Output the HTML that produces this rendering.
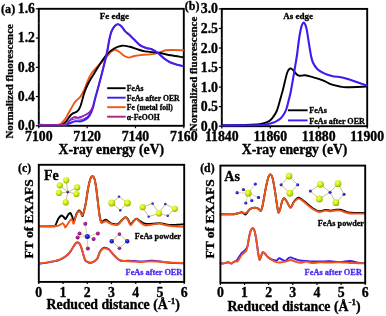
<!DOCTYPE html><html><head><meta charset="utf-8"><style>html,body{margin:0;padding:0;background:#fff;width:386px;height:316px;overflow:hidden}</style></head><body><svg width="386" height="316" viewBox="0 0 386 316" style="display:block;will-change:transform;font-family:'Liberation Serif',serif;font-weight:bold">
<rect width="386" height="316" fill="#fff"/>
<rect x="38.80" y="8.80" width="145.00" height="117.00" fill="none" stroke="#000" stroke-width="1.9"/>
<path d="M39.00,125.00 C42.00,124.98 53.50,125.02 57.00,124.90 C60.50,124.78 59.08,124.75 60.00,124.30 C60.92,123.85 61.55,123.20 62.50,122.20 C63.45,121.20 64.70,119.80 65.70,118.30 C66.70,116.80 67.55,114.92 68.50,113.20 C69.45,111.48 70.45,109.67 71.40,108.00 C72.35,106.33 73.25,104.57 74.20,103.20 C75.15,101.83 76.05,100.90 77.10,99.80 C78.15,98.70 79.37,98.15 80.50,96.60 C81.63,95.05 82.73,93.02 83.90,90.50 C85.07,87.98 86.25,84.33 87.50,81.50 C88.75,78.67 89.62,76.12 91.40,73.50 C93.18,70.88 96.27,67.97 98.20,65.80 C100.13,63.63 101.48,62.13 103.00,60.50 C104.52,58.87 105.97,57.45 107.30,56.00 C108.63,54.55 109.67,52.85 111.00,51.80 C112.33,50.75 113.83,49.62 115.30,49.70 C116.77,49.78 118.28,51.25 119.80,52.30 C121.32,53.35 122.88,55.12 124.40,56.00 C125.92,56.88 127.20,57.60 128.90,57.60 C130.60,57.60 132.13,56.47 134.60,56.00 C137.07,55.53 141.13,55.07 143.70,54.80 C146.27,54.53 147.57,54.73 150.00,54.40 C152.43,54.07 155.67,53.48 158.30,52.80 C160.93,52.12 163.18,50.77 165.80,50.30 C168.42,49.83 171.13,50.00 174.00,50.00 C176.87,50.00 181.50,50.25 183.00,50.30" fill="none" stroke="#f35516" stroke-width="1.9" stroke-linejoin="round" stroke-linecap="round" />
<path d="M39.00,125.00 C42.50,124.98 56.00,125.07 60.00,124.90 C64.00,124.73 62.05,124.50 63.00,124.00 C63.95,123.50 64.78,122.90 65.70,121.90 C66.62,120.90 67.55,119.23 68.50,118.00 C69.45,116.77 70.35,115.40 71.40,114.50 C72.45,113.60 73.87,113.08 74.80,112.60 C75.73,112.12 76.33,112.12 77.00,111.60 C77.67,111.08 78.22,110.43 78.80,109.50 C79.38,108.57 79.97,107.42 80.50,106.00 C81.03,104.58 81.33,103.28 82.00,101.00 C82.67,98.72 83.58,94.97 84.50,92.30 C85.42,89.63 86.42,87.30 87.50,85.00 C88.58,82.70 89.58,80.92 91.00,78.50 C92.42,76.08 94.33,73.17 96.00,70.50 C97.67,67.83 99.12,65.25 101.00,62.50 C102.88,59.75 105.12,56.33 107.30,54.00 C109.48,51.67 111.63,49.88 114.10,48.50 C116.57,47.12 119.45,45.98 122.10,45.70 C124.75,45.42 127.53,46.23 130.00,46.80 C132.47,47.37 134.40,48.33 136.90,49.10 C139.40,49.87 141.43,50.78 145.00,51.40 C148.57,52.02 153.98,52.15 158.30,52.80 C162.62,53.45 166.78,54.57 170.90,55.30 C175.02,56.03 180.98,56.88 183.00,57.20" fill="none" stroke="#000" stroke-width="1.9" stroke-linejoin="round" stroke-linecap="round" />
<path d="M68.00,122.00 C68.35,121.75 68.77,121.03 70.10,120.50 C71.43,119.97 73.92,119.02 76.00,118.80 C78.08,118.58 80.80,119.47 82.60,119.20 C84.40,118.93 85.57,118.15 86.80,117.20 C88.03,116.25 89.47,114.12 90.00,113.50" fill="none" stroke="#8a22b8" stroke-width="1.1" stroke-linejoin="round" stroke-linecap="round" />
<path d="M39.00,124.60 C43.17,124.58 59.22,124.83 64.00,124.50 C68.78,124.17 66.53,123.52 67.70,122.60 C68.87,121.68 69.90,119.92 71.00,119.00 C72.10,118.08 73.07,117.33 74.30,117.10 C75.53,116.87 77.02,117.73 78.40,117.60 C79.78,117.47 81.00,117.00 82.60,116.30 C84.20,115.60 86.68,114.28 88.00,113.40 C89.32,112.52 89.72,112.07 90.50,111.00 C91.28,109.93 91.95,109.00 92.70,107.00 C93.45,105.00 94.20,101.83 95.00,99.00 C95.80,96.17 96.33,94.33 97.50,90.00 C98.67,85.67 100.67,78.17 102.00,73.00 C103.33,67.83 104.58,62.83 105.50,59.00 C106.42,55.17 106.90,53.03 107.50,50.00 C108.10,46.97 108.45,43.85 109.10,40.80 C109.75,37.75 110.45,34.17 111.40,31.70 C112.35,29.23 113.67,27.23 114.80,26.00 C115.93,24.77 117.07,24.22 118.20,24.30 C119.33,24.38 120.47,25.37 121.60,26.50 C122.73,27.63 123.67,29.67 125.00,31.10 C126.33,32.53 128.07,33.68 129.60,35.10 C131.13,36.52 132.58,38.02 134.20,39.60 C135.82,41.18 137.83,43.40 139.30,44.60 C140.77,45.80 141.72,46.20 143.00,46.80 C144.28,47.40 145.67,47.83 147.00,48.20 C148.33,48.57 149.75,48.60 151.00,49.00 C152.25,49.40 153.28,49.88 154.50,50.60 C155.72,51.32 157.05,52.30 158.30,53.30 C159.55,54.30 160.75,55.53 162.00,56.60 C163.25,57.67 164.55,58.80 165.80,59.70 C167.05,60.60 168.23,61.35 169.50,62.00 C170.77,62.65 171.98,63.10 173.40,63.60 C174.82,64.10 176.47,64.60 178.00,65.00 C179.53,65.40 181.83,65.83 182.60,66.00" fill="none" stroke="#8a22b8" stroke-width="1.5" stroke-linejoin="round" stroke-linecap="round" />
<path d="M39.00,125.20 C43.17,125.17 59.25,125.20 64.00,125.00 C68.75,124.80 66.45,124.33 67.50,124.00 C68.55,123.67 69.02,123.45 70.30,123.00 C71.58,122.55 73.42,121.58 75.20,121.30 C76.98,121.02 79.33,121.57 81.00,121.30 C82.67,121.03 83.82,120.60 85.20,119.70 C86.58,118.80 88.05,117.77 89.30,115.90 C90.55,114.03 91.75,111.32 92.70,108.50 C93.65,105.68 94.20,102.08 95.00,99.00 C95.80,95.92 96.33,94.33 97.50,90.00 C98.67,85.67 100.67,78.17 102.00,73.00 C103.33,67.83 104.58,62.83 105.50,59.00 C106.42,55.17 106.90,53.03 107.50,50.00 C108.10,46.97 108.45,43.85 109.10,40.80 C109.75,37.75 110.45,34.17 111.40,31.70 C112.35,29.23 113.67,27.23 114.80,26.00 C115.93,24.77 117.07,24.22 118.20,24.30 C119.33,24.38 120.47,25.37 121.60,26.50 C122.73,27.63 123.67,29.67 125.00,31.10 C126.33,32.53 128.07,33.68 129.60,35.10 C131.13,36.52 132.58,38.02 134.20,39.60 C135.82,41.18 137.83,43.40 139.30,44.60 C140.77,45.80 141.72,46.20 143.00,46.80 C144.28,47.40 145.67,47.83 147.00,48.20 C148.33,48.57 149.75,48.60 151.00,49.00 C152.25,49.40 153.28,49.88 154.50,50.60 C155.72,51.32 157.05,52.30 158.30,53.30 C159.55,54.30 160.75,55.53 162.00,56.60 C163.25,57.67 164.55,58.80 165.80,59.70 C167.05,60.60 168.23,61.35 169.50,62.00 C170.77,62.65 171.98,63.10 173.40,63.60 C174.82,64.10 176.47,64.60 178.00,65.00 C179.53,65.40 181.83,65.83 182.60,66.00" fill="none" stroke="#3c1cf4" stroke-width="2.1" stroke-linejoin="round" stroke-linecap="round" />
<path d="M39.00,124.60 C43.17,124.58 59.22,124.83 64.00,124.50 C68.78,124.17 66.53,123.52 67.70,122.60 C68.87,121.68 69.90,119.92 71.00,119.00 C72.10,118.08 73.07,117.33 74.30,117.10 C75.53,116.87 77.02,117.73 78.40,117.60 C79.78,117.47 81.00,117.00 82.60,116.30 C84.20,115.60 86.68,114.28 88.00,113.40 C89.32,112.52 89.72,112.07 90.50,111.00 C91.28,109.93 92.33,107.67 92.70,107.00" fill="none" stroke="#8a22b8" stroke-width="1.3" stroke-linejoin="round" stroke-linecap="round" />
<path d="M39.00,124.60 C43.17,124.58 59.22,124.83 64.00,124.50 C68.78,124.17 66.53,123.52 67.70,122.60 C68.87,121.68 69.90,119.92 71.00,119.00 C72.10,118.08 73.07,117.33 74.30,117.10 C75.53,116.87 77.02,117.73 78.40,117.60 C79.78,117.47 81.00,117.00 82.60,116.30 C84.20,115.60 86.68,114.28 88.00,113.40 C89.32,112.52 89.72,112.07 90.50,111.00 C91.28,109.93 91.95,109.00 92.70,107.00 C93.45,105.00 94.20,101.83 95.00,99.00 C95.80,96.17 96.33,94.33 97.50,90.00 C98.67,85.67 100.67,78.17 102.00,73.00 C103.33,67.83 104.58,62.83 105.50,59.00 C106.42,55.17 106.90,53.03 107.50,50.00 C108.10,46.97 108.45,43.85 109.10,40.80 C109.75,37.75 110.45,34.17 111.40,31.70 C112.35,29.23 113.67,27.23 114.80,26.00 C115.93,24.77 117.07,24.22 118.20,24.30 C119.33,24.38 120.47,25.37 121.60,26.50 C122.73,27.63 123.67,29.67 125.00,31.10 C126.33,32.53 128.07,33.68 129.60,35.10 C131.13,36.52 132.58,38.02 134.20,39.60 C135.82,41.18 137.83,43.40 139.30,44.60 C140.77,45.80 141.72,46.20 143.00,46.80 C144.28,47.40 145.67,47.83 147.00,48.20 C148.33,48.57 149.75,48.60 151.00,49.00 C152.25,49.40 153.28,49.88 154.50,50.60 C155.72,51.32 157.05,52.30 158.30,53.30 C159.55,54.30 160.75,55.53 162.00,56.60 C163.25,57.67 164.55,58.80 165.80,59.70 C167.05,60.60 168.23,61.35 169.50,62.00 C170.77,62.65 171.98,63.10 173.40,63.60 C174.82,64.10 176.47,64.60 178.00,65.00 C179.53,65.40 181.83,65.83 182.60,66.00" fill="none" stroke="#e8302a" stroke-width="0.8" stroke-linejoin="round" stroke-linecap="round" stroke-dasharray="1.2,3" stroke-opacity="0.4"/>
<line x1="35.80" y1="125.80" x2="38.80" y2="125.80" stroke="#000" stroke-width="1.2"/>
<text transform="translate(35.00 130.10) scale(1.0 1.06)" font-size="13.8" text-anchor="end" fill="#000" stroke="#000" stroke-width="0.35" stroke-linejoin="round" >0.0</text>
<line x1="35.80" y1="96.55" x2="38.80" y2="96.55" stroke="#000" stroke-width="1.2"/>
<text transform="translate(35.00 100.85) scale(1.0 1.06)" font-size="13.8" text-anchor="end" fill="#000" stroke="#000" stroke-width="0.35" stroke-linejoin="round" >0.4</text>
<line x1="35.80" y1="67.30" x2="38.80" y2="67.30" stroke="#000" stroke-width="1.2"/>
<text transform="translate(35.00 71.60) scale(1.0 1.06)" font-size="13.8" text-anchor="end" fill="#000" stroke="#000" stroke-width="0.35" stroke-linejoin="round" >0.8</text>
<line x1="35.80" y1="38.05" x2="38.80" y2="38.05" stroke="#000" stroke-width="1.2"/>
<text transform="translate(35.00 42.35) scale(1.0 1.06)" font-size="13.8" text-anchor="end" fill="#000" stroke="#000" stroke-width="0.35" stroke-linejoin="round" >1.2</text>
<line x1="35.80" y1="8.80" x2="38.80" y2="8.80" stroke="#000" stroke-width="1.2"/>
<text transform="translate(35.00 13.10) scale(1.0 1.06)" font-size="13.8" text-anchor="end" fill="#000" stroke="#000" stroke-width="0.35" stroke-linejoin="round" >1.6</text>
<line x1="37.30" y1="111.17" x2="38.80" y2="111.17" stroke="#999" stroke-width="0.6"/>
<line x1="37.30" y1="81.92" x2="38.80" y2="81.92" stroke="#999" stroke-width="0.6"/>
<line x1="37.30" y1="52.67" x2="38.80" y2="52.67" stroke="#999" stroke-width="0.6"/>
<line x1="37.30" y1="23.42" x2="38.80" y2="23.42" stroke="#999" stroke-width="0.6"/>
<line x1="38.80" y1="125.80" x2="38.80" y2="128.20" stroke="#000" stroke-width="1.2"/>
<text transform="translate(38.80 140.80) scale(1.0 1.06)" font-size="13.8" text-anchor="middle" fill="#000" stroke="#000" stroke-width="0.35" stroke-linejoin="round" >7100</text>
<line x1="87.13" y1="125.80" x2="87.13" y2="128.20" stroke="#000" stroke-width="1.2"/>
<text transform="translate(87.13 140.80) scale(1.0 1.06)" font-size="13.8" text-anchor="middle" fill="#000" stroke="#000" stroke-width="0.35" stroke-linejoin="round" >7120</text>
<line x1="135.47" y1="125.80" x2="135.47" y2="128.20" stroke="#000" stroke-width="1.2"/>
<text transform="translate(135.47 140.80) scale(1.0 1.06)" font-size="13.8" text-anchor="middle" fill="#000" stroke="#000" stroke-width="0.35" stroke-linejoin="round" >7140</text>
<line x1="183.80" y1="125.80" x2="183.80" y2="128.20" stroke="#000" stroke-width="1.2"/>
<text transform="translate(183.80 140.80) scale(1.0 1.06)" font-size="13.8" text-anchor="middle" fill="#000" stroke="#000" stroke-width="0.35" stroke-linejoin="round" >7160</text>
<text transform="translate(58.50 153.60) scale(1.0 1.07)" font-size="13.7" text-anchor="start" fill="#000" stroke="#000" stroke-width="0.35" stroke-linejoin="round" >X-ray energy (eV)</text>
<text x="13.30" y="138.60" font-size="10.9" text-anchor="start" fill="#000" stroke="#000" stroke-width="0.283" stroke-linejoin="round" transform="rotate(-90 13.3 138.6)">Normalized fluorescence</text>
<text transform="translate(1.00 13.10) scale(1.0 0.95)" font-size="12.2" text-anchor="start" fill="#000" stroke="#000" stroke-width="0.317" stroke-linejoin="round" >(a)</text>
<text x="99.80" y="18.90" font-size="9" text-anchor="start" fill="#000" stroke="#000" stroke-width="0.3" stroke-linejoin="round" >Fe edge</text>
<line x1="107.20" y1="88.20" x2="125.60" y2="88.20" stroke="#000" stroke-width="1.9"/>
<text x="126.80" y="91.00" font-size="7.7" text-anchor="start" fill="#000" stroke="#000" stroke-width="0.3" stroke-linejoin="round" >FeAs</text>
<line x1="107.20" y1="97.70" x2="125.60" y2="97.70" stroke="#3c1cf4" stroke-width="1.9"/>
<text x="126.80" y="100.50" font-size="7.7" text-anchor="start" fill="#000" stroke="#000" stroke-width="0.3" stroke-linejoin="round" >FeAs after OER</text>
<line x1="107.20" y1="107.20" x2="125.60" y2="107.20" stroke="#f35516" stroke-width="1.9"/>
<text x="126.80" y="110.00" font-size="7.7" text-anchor="start" fill="#000" stroke="#000" stroke-width="0.3" stroke-linejoin="round" >Fe (metal foil)</text>
<line x1="107.20" y1="116.70" x2="125.60" y2="116.70" stroke="#8a22b8" stroke-width="1.9"/>
<line x1="107.2" y1="116.50" x2="125.6" y2="116.50" stroke="#e8302a" stroke-width="0.8" stroke-dasharray="1.3,1.3"/>
<text x="126.80" y="119.50" font-size="7.7" text-anchor="start" fill="#000" stroke="#000" stroke-width="0.3" stroke-linejoin="round" >&#945;-FeOOH</text>
<rect x="221.80" y="8.90" width="145.40" height="117.30" fill="none" stroke="#000" stroke-width="1.9"/>
<path d="M222.00,125.30 C225.83,125.25 239.20,125.13 245.00,125.00 C250.80,124.87 253.97,124.70 256.80,124.50 C259.63,124.30 260.28,124.18 262.00,123.80 C263.72,123.42 265.63,122.87 267.10,122.20 C268.57,121.53 269.67,120.85 270.80,119.80 C271.93,118.75 272.95,117.28 273.90,115.90 C274.85,114.52 275.73,113.20 276.50,111.50 C277.27,109.80 277.72,108.28 278.50,105.70 C279.28,103.12 280.45,98.70 281.20,96.00 C281.95,93.30 282.43,91.70 283.00,89.50 C283.57,87.30 284.02,85.22 284.60,82.80 C285.18,80.38 285.93,77.00 286.50,75.00 C287.07,73.00 287.38,71.90 288.00,70.80 C288.62,69.70 289.50,68.67 290.20,68.40 C290.90,68.13 291.48,68.63 292.20,69.20 C292.92,69.77 293.70,70.87 294.50,71.80 C295.30,72.73 296.17,74.13 297.00,74.80 C297.83,75.47 298.13,75.72 299.50,75.80 C300.87,75.88 302.98,75.07 305.20,75.30 C307.42,75.53 309.85,76.37 312.80,77.20 C315.75,78.03 319.95,79.15 322.90,80.30 C325.85,81.45 327.83,83.12 330.50,84.10 C333.17,85.08 336.22,85.68 338.90,86.20 C341.58,86.72 341.98,87.13 346.60,87.20 C351.22,87.27 363.27,86.70 366.60,86.60" fill="none" stroke="#000" stroke-width="1.9" stroke-linejoin="round" stroke-linecap="round" />
<path d="M222.00,125.50 C226.67,125.47 243.43,125.38 250.00,125.30 C256.57,125.22 258.57,125.18 261.40,125.00 C264.23,124.82 265.10,124.57 267.00,124.20 C268.90,123.83 271.13,123.37 272.80,122.80 C274.47,122.23 275.67,121.57 277.00,120.80 C278.33,120.03 279.63,119.33 280.80,118.20 C281.97,117.07 283.07,115.53 284.00,114.00 C284.93,112.47 285.65,111.17 286.40,109.00 C287.15,106.83 287.80,103.75 288.50,101.00 C289.20,98.25 289.85,96.17 290.60,92.50 C291.35,88.83 292.23,83.42 293.00,79.00 C293.77,74.58 294.53,70.00 295.20,66.00 C295.87,62.00 296.38,59.33 297.00,55.00 C297.62,50.67 298.32,44.08 298.90,40.00 C299.48,35.92 299.98,33.03 300.50,30.50 C301.02,27.97 301.47,26.12 302.00,24.80 C302.53,23.48 303.13,22.60 303.70,22.60 C304.27,22.60 304.88,23.57 305.40,24.80 C305.92,26.03 306.30,27.47 306.80,30.00 C307.30,32.53 307.72,35.83 308.40,40.00 C309.08,44.17 310.17,51.30 310.90,55.00 C311.63,58.70 311.75,59.88 312.80,62.20 C313.85,64.52 315.30,67.03 317.20,68.90 C319.10,70.77 321.77,72.23 324.20,73.40 C326.63,74.57 328.62,75.18 331.80,75.90 C334.98,76.62 339.90,76.93 343.30,77.70 C346.70,78.47 348.32,79.20 352.20,80.50 C356.08,81.80 364.20,84.67 366.60,85.50" fill="none" stroke="#3c1cf4" stroke-width="2.1" stroke-linejoin="round" stroke-linecap="round" />
<line x1="218.80" y1="126.20" x2="221.80" y2="126.20" stroke="#000" stroke-width="1.2"/>
<text transform="translate(218.00 130.70) scale(1.0 1.06)" font-size="13.8" text-anchor="end" fill="#000" stroke="#000" stroke-width="0.35" stroke-linejoin="round" >0.0</text>
<line x1="218.80" y1="106.65" x2="221.80" y2="106.65" stroke="#000" stroke-width="1.2"/>
<text transform="translate(218.00 111.15) scale(1.0 1.06)" font-size="13.8" text-anchor="end" fill="#000" stroke="#000" stroke-width="0.35" stroke-linejoin="round" >0.5</text>
<line x1="218.80" y1="87.10" x2="221.80" y2="87.10" stroke="#000" stroke-width="1.2"/>
<text transform="translate(218.00 91.60) scale(1.0 1.06)" font-size="13.8" text-anchor="end" fill="#000" stroke="#000" stroke-width="0.35" stroke-linejoin="round" >1.0</text>
<line x1="218.80" y1="67.55" x2="221.80" y2="67.55" stroke="#000" stroke-width="1.2"/>
<text transform="translate(218.00 72.05) scale(1.0 1.06)" font-size="13.8" text-anchor="end" fill="#000" stroke="#000" stroke-width="0.35" stroke-linejoin="round" >1.5</text>
<line x1="218.80" y1="48.00" x2="221.80" y2="48.00" stroke="#000" stroke-width="1.2"/>
<text transform="translate(218.00 52.50) scale(1.0 1.06)" font-size="13.8" text-anchor="end" fill="#000" stroke="#000" stroke-width="0.35" stroke-linejoin="round" >2.0</text>
<line x1="218.80" y1="28.45" x2="221.80" y2="28.45" stroke="#000" stroke-width="1.2"/>
<text transform="translate(218.00 32.95) scale(1.0 1.06)" font-size="13.8" text-anchor="end" fill="#000" stroke="#000" stroke-width="0.35" stroke-linejoin="round" >2.5</text>
<line x1="218.80" y1="8.90" x2="221.80" y2="8.90" stroke="#000" stroke-width="1.2"/>
<text transform="translate(218.00 13.40) scale(1.0 1.06)" font-size="13.8" text-anchor="end" fill="#000" stroke="#000" stroke-width="0.35" stroke-linejoin="round" >3.0</text>
<line x1="220.30" y1="116.42" x2="221.80" y2="116.42" stroke="#999" stroke-width="0.6"/>
<line x1="220.30" y1="96.88" x2="221.80" y2="96.88" stroke="#999" stroke-width="0.6"/>
<line x1="220.30" y1="77.33" x2="221.80" y2="77.33" stroke="#999" stroke-width="0.6"/>
<line x1="220.30" y1="57.78" x2="221.80" y2="57.78" stroke="#999" stroke-width="0.6"/>
<line x1="220.30" y1="38.22" x2="221.80" y2="38.22" stroke="#999" stroke-width="0.6"/>
<line x1="220.30" y1="18.68" x2="221.80" y2="18.68" stroke="#999" stroke-width="0.6"/>
<line x1="221.80" y1="126.20" x2="221.80" y2="128.60" stroke="#000" stroke-width="1.2"/>
<text transform="translate(221.80 140.80) scale(1.0 1.06)" font-size="13.8" text-anchor="middle" fill="#000" stroke="#000" stroke-width="0.35" stroke-linejoin="round" >11840</text>
<line x1="270.27" y1="126.20" x2="270.27" y2="128.60" stroke="#000" stroke-width="1.2"/>
<text transform="translate(270.27 140.80) scale(1.0 1.06)" font-size="13.8" text-anchor="middle" fill="#000" stroke="#000" stroke-width="0.35" stroke-linejoin="round" >11860</text>
<line x1="318.73" y1="126.20" x2="318.73" y2="128.60" stroke="#000" stroke-width="1.2"/>
<text transform="translate(318.73 140.80) scale(1.0 1.06)" font-size="13.8" text-anchor="middle" fill="#000" stroke="#000" stroke-width="0.35" stroke-linejoin="round" >11880</text>
<line x1="367.20" y1="126.20" x2="367.20" y2="128.60" stroke="#000" stroke-width="1.2"/>
<text transform="translate(367.20 140.80) scale(1.0 1.06)" font-size="13.8" text-anchor="middle" fill="#000" stroke="#000" stroke-width="0.35" stroke-linejoin="round" >11900</text>
<text transform="translate(241.80 153.60) scale(1.0 1.07)" font-size="13.7" text-anchor="start" fill="#000" stroke="#000" stroke-width="0.35" stroke-linejoin="round" >X-ray energy (eV)</text>
<text x="196.80" y="131.20" font-size="10.9" text-anchor="start" fill="#000" stroke="#000" stroke-width="0.283" stroke-linejoin="round" transform="rotate(-90 196.8 131.2)">Normalized fluorescence</text>
<text x="184.80" y="10.30" font-size="12.0" text-anchor="start" fill="#000" stroke="#000" stroke-width="0.312" stroke-linejoin="round" >(b)</text>
<text x="283.20" y="18.70" font-size="9" text-anchor="start" fill="#000" stroke="#000" stroke-width="0.3" stroke-linejoin="round" >As edge</text>
<line x1="288.00" y1="110.30" x2="307.60" y2="110.30" stroke="#000" stroke-width="1.9"/>
<text x="309.30" y="113.40" font-size="8.1" text-anchor="start" fill="#000" stroke="#000" stroke-width="0.3" stroke-linejoin="round" >FeAs</text>
<line x1="288.00" y1="120.40" x2="307.60" y2="120.40" stroke="#3c1cf4" stroke-width="1.9"/>
<text x="309.30" y="123.50" font-size="8.1" text-anchor="start" fill="#000" stroke="#000" stroke-width="0.3" stroke-linejoin="round" >FeAs after OER</text>
<defs><radialGradient id="gy" cx="0.4" cy="0.35" r="0.65"><stop offset="0" stop-color="#f4ff70"/><stop offset="0.55" stop-color="#d0ec10"/><stop offset="1" stop-color="#8cb000"/></radialGradient><radialGradient id="gb" cx="0.4" cy="0.35" r="0.65"><stop offset="0" stop-color="#4a5aff"/><stop offset="0.6" stop-color="#1a1ad0"/><stop offset="1" stop-color="#0a0a80"/></radialGradient><radialGradient id="gp" cx="0.4" cy="0.35" r="0.65"><stop offset="0" stop-color="#c83c9c"/><stop offset="0.6" stop-color="#9a1a86"/><stop offset="1" stop-color="#60106a"/></radialGradient></defs>
<path d="M39.00,226.40 C41.50,226.38 51.25,226.50 54.00,226.30 C56.75,226.10 54.78,226.47 55.50,225.20 C56.22,223.93 57.32,220.32 58.30,218.70 C59.28,217.08 60.53,215.82 61.40,215.50 C62.27,215.18 62.82,216.22 63.50,216.80 C64.18,217.38 64.75,219.30 65.50,219.00 C66.25,218.70 67.22,216.00 68.00,215.00 C68.78,214.00 69.50,212.75 70.20,213.00 C70.90,213.25 71.60,215.08 72.20,216.50 C72.80,217.92 73.08,221.92 73.80,221.50 C74.52,221.08 75.63,215.85 76.50,214.00 C77.37,212.15 78.25,210.65 79.00,210.40 C79.75,210.15 80.40,211.57 81.00,212.50 C81.60,213.43 82.05,216.42 82.60,216.00 C83.15,215.58 83.73,212.33 84.30,210.00 C84.87,207.67 85.38,205.50 86.00,202.00 C86.62,198.50 87.28,192.83 88.00,189.00 C88.72,185.17 89.57,181.12 90.30,179.00 C91.03,176.88 91.70,176.30 92.40,176.30 C93.10,176.30 93.87,177.05 94.50,179.00 C95.13,180.95 95.62,184.00 96.20,188.00 C96.78,192.00 97.45,198.50 98.00,203.00 C98.55,207.50 98.97,211.83 99.50,215.00 C100.03,218.17 100.53,221.03 101.20,222.00 C101.87,222.97 102.70,221.20 103.50,220.80 C104.30,220.40 105.08,219.43 106.00,219.60 C106.92,219.77 108.00,221.13 109.00,221.80 C110.00,222.47 110.55,223.20 112.00,223.60 C113.45,224.00 116.12,224.72 117.70,224.20 C119.28,223.68 120.22,221.67 121.50,220.50 C122.78,219.33 124.32,217.37 125.40,217.20 C126.48,217.03 127.13,218.33 128.00,219.50 C128.87,220.67 129.68,223.95 130.60,224.20 C131.52,224.45 132.52,221.90 133.50,221.00 C134.48,220.10 135.42,218.80 136.50,218.80 C137.58,218.80 138.58,220.20 140.00,221.00 C141.42,221.80 143.00,223.13 145.00,223.60 C147.00,224.07 149.53,223.87 152.00,223.80 C154.47,223.73 157.63,223.13 159.80,223.20 C161.97,223.27 163.17,223.90 165.00,224.20 C166.83,224.50 168.80,224.90 170.80,225.00 C172.80,225.10 174.88,224.92 177.00,224.80 C179.12,224.68 182.42,224.38 183.50,224.30" fill="none" stroke="#000" stroke-width="1.9" stroke-linejoin="round" stroke-linecap="round" />
<path d="M39.00,226.40 C41.83,226.33 52.62,226.20 56.00,226.00 C59.38,225.80 58.43,225.53 59.30,225.20 C60.17,224.87 60.58,224.32 61.20,224.00 C61.82,223.68 62.45,223.05 63.00,223.30 C63.55,223.55 64.08,224.83 64.50,225.50 C64.92,226.17 64.87,227.72 65.50,227.30 C66.13,226.88 67.35,224.35 68.30,223.00 C69.25,221.65 70.47,219.45 71.20,219.20 C71.93,218.95 72.27,220.77 72.70,221.50 C73.13,222.23 73.25,224.52 73.80,223.60 C74.35,222.68 75.22,218.03 76.00,216.00 C76.78,213.97 77.75,211.98 78.50,211.40 C79.25,210.82 79.90,211.82 80.50,212.50 C81.10,213.18 81.47,215.83 82.10,215.50 C82.73,215.17 83.65,212.75 84.30,210.50 C84.95,208.25 85.38,205.58 86.00,202.00 C86.62,198.42 87.28,192.83 88.00,189.00 C88.72,185.17 89.58,181.12 90.30,179.00 C91.02,176.88 91.60,176.30 92.30,176.30 C93.00,176.30 93.85,177.05 94.50,179.00 C95.15,180.95 95.62,184.00 96.20,188.00 C96.78,192.00 97.45,198.50 98.00,203.00 C98.55,207.50 98.97,211.73 99.50,215.00 C100.03,218.27 100.53,221.43 101.20,222.60 C101.87,223.77 102.70,222.23 103.50,222.00 C104.30,221.77 105.08,221.07 106.00,221.20 C106.92,221.33 108.00,222.28 109.00,222.80 C110.00,223.32 110.55,223.97 112.00,224.30 C113.45,224.63 116.12,225.35 117.70,224.80 C119.28,224.25 120.22,222.27 121.50,221.00 C122.78,219.73 124.32,217.37 125.40,217.20 C126.48,217.03 127.13,218.67 128.00,220.00 C128.87,221.33 129.68,224.95 130.60,225.20 C131.52,225.45 132.52,222.53 133.50,221.50 C134.48,220.47 135.42,218.92 136.50,219.00 C137.58,219.08 138.58,220.93 140.00,222.00 C141.42,223.07 143.00,224.97 145.00,225.40 C147.00,225.83 149.53,224.93 152.00,224.60 C154.47,224.27 157.63,223.33 159.80,223.40 C161.97,223.47 163.17,224.57 165.00,225.00 C166.83,225.43 168.80,225.75 170.80,226.00 C172.80,226.25 174.88,226.35 177.00,226.50 C179.12,226.65 182.42,226.83 183.50,226.90" fill="none" stroke="#f35516" stroke-width="1.9" stroke-linejoin="round" stroke-linecap="round" />
<path d="M39.00,263.80 C40.17,263.65 43.53,263.30 46.00,262.90 C48.47,262.50 51.80,261.80 53.80,261.40 C55.80,261.00 56.68,260.90 58.00,260.50 C59.32,260.10 60.45,259.65 61.70,259.00 C62.95,258.35 64.30,257.52 65.50,256.60 C66.70,255.68 67.93,254.55 68.90,253.50 C69.87,252.45 70.52,251.45 71.30,250.30 C72.08,249.15 72.90,247.72 73.60,246.60 C74.30,245.48 74.90,244.28 75.50,243.60 C76.10,242.92 76.65,242.58 77.20,242.50 C77.75,242.42 78.27,242.63 78.80,243.10 C79.33,243.57 79.87,244.18 80.40,245.30 C80.93,246.42 81.48,248.13 82.00,249.80 C82.52,251.47 83.00,253.63 83.50,255.30 C84.00,256.97 84.50,258.75 85.00,259.80 C85.50,260.85 85.83,261.12 86.50,261.60 C87.17,262.08 88.12,262.52 89.00,262.70 C89.88,262.88 90.80,262.97 91.80,262.70 C92.80,262.43 94.05,261.83 95.00,261.10 C95.95,260.37 96.72,259.78 97.50,258.30 C98.28,256.82 98.95,253.77 99.70,252.20 C100.45,250.63 101.22,249.63 102.00,248.90 C102.78,248.17 103.60,247.92 104.40,247.80 C105.20,247.68 106.00,247.93 106.80,248.20 C107.60,248.47 108.25,248.50 109.20,249.40 C110.15,250.30 111.33,252.23 112.50,253.60 C113.67,254.97 115.12,256.55 116.20,257.60 C117.28,258.65 117.92,259.32 119.00,259.90 C120.08,260.48 121.20,260.97 122.70,261.10 C124.20,261.23 126.12,260.72 128.00,260.70 C129.88,260.68 131.67,260.88 134.00,261.00 C136.33,261.12 139.33,261.43 142.00,261.40 C144.67,261.37 147.67,260.88 150.00,260.80 C152.33,260.72 153.50,260.65 156.00,260.90 C158.50,261.15 161.83,261.93 165.00,262.30 C168.17,262.67 171.92,262.93 175.00,263.10 C178.08,263.27 182.08,263.27 183.50,263.30" fill="none" stroke="#3c1cf4" stroke-width="1.9" stroke-linejoin="round" stroke-linecap="round" />
<path d="M39.00,263.50 C40.17,263.35 43.53,263.00 46.00,262.60 C48.47,262.20 51.80,261.50 53.80,261.10 C55.80,260.70 56.68,260.60 58.00,260.20 C59.32,259.80 60.45,259.35 61.70,258.70 C62.95,258.05 64.30,257.22 65.50,256.30 C66.70,255.38 67.93,254.25 68.90,253.20 C69.87,252.15 70.52,251.15 71.30,250.00 C72.08,248.85 72.90,247.42 73.60,246.30 C74.30,245.18 74.90,243.98 75.50,243.30 C76.10,242.62 76.65,242.28 77.20,242.20 C77.75,242.12 78.27,242.33 78.80,242.80 C79.33,243.27 79.87,243.88 80.40,245.00 C80.93,246.12 81.48,247.83 82.00,249.50 C82.52,251.17 83.00,253.33 83.50,255.00 C84.00,256.67 84.50,258.45 85.00,259.50 C85.50,260.55 85.83,260.82 86.50,261.30 C87.17,261.78 88.12,262.22 89.00,262.40 C89.88,262.58 90.80,262.67 91.80,262.40 C92.80,262.13 94.05,261.53 95.00,260.80 C95.95,260.07 96.72,259.33 97.50,258.00 C98.28,256.67 98.95,254.22 99.70,252.80 C100.45,251.38 101.22,250.23 102.00,249.50 C102.78,248.77 103.60,248.52 104.40,248.40 C105.20,248.28 106.00,248.53 106.80,248.80 C107.60,249.07 108.25,249.25 109.20,250.00 C110.15,250.75 111.33,252.08 112.50,253.30 C113.67,254.52 115.12,256.25 116.20,257.30 C117.28,258.35 117.92,259.02 119.00,259.60 C120.08,260.18 121.20,260.52 122.70,260.80 C124.20,261.08 126.12,261.17 128.00,261.30 C129.88,261.43 131.67,261.48 134.00,261.60 C136.33,261.72 139.33,262.03 142.00,262.00 C144.67,261.97 147.67,261.48 150.00,261.40 C152.33,261.32 153.50,261.40 156.00,261.50 C158.50,261.60 161.83,261.78 165.00,262.00 C168.17,262.22 171.92,262.63 175.00,262.80 C178.08,262.97 182.08,262.97 183.50,263.00" fill="none" stroke="#f35516" stroke-width="1.9" stroke-linejoin="round" stroke-linecap="round" />
<line x1="67.70" y1="192.10" x2="66.20" y2="180.30" stroke="#c0a850" stroke-width="0.75"/>
<line x1="67.70" y1="192.10" x2="59.80" y2="185.30" stroke="#c0a850" stroke-width="0.75"/>
<line x1="67.70" y1="192.10" x2="59.00" y2="192.90" stroke="#c0a850" stroke-width="0.75"/>
<line x1="67.70" y1="192.10" x2="77.20" y2="187.40" stroke="#c0a850" stroke-width="0.75"/>
<line x1="67.70" y1="192.10" x2="76.40" y2="194.00" stroke="#c0a850" stroke-width="0.75"/>
<line x1="67.70" y1="192.10" x2="65.70" y2="202.40" stroke="#c0a850" stroke-width="0.75"/>
<circle cx="66.20" cy="180.30" r="3.10" fill="url(#gy)"/>
<circle cx="59.80" cy="185.30" r="3.10" fill="url(#gy)"/>
<circle cx="77.20" cy="187.40" r="3.10" fill="url(#gy)"/>
<circle cx="67.70" cy="192.10" r="1.30" fill="url(#gb)"/>
<circle cx="59.00" cy="192.90" r="3.10" fill="url(#gy)"/>
<circle cx="76.40" cy="194.00" r="3.10" fill="url(#gy)"/>
<circle cx="65.70" cy="202.40" r="3.10" fill="url(#gy)"/>
<line x1="119.00" y1="196.60" x2="111.80" y2="203.00" stroke="#c0a850" stroke-width="0.75"/>
<line x1="119.00" y1="196.60" x2="127.40" y2="203.00" stroke="#c0a850" stroke-width="0.75"/>
<line x1="111.80" y1="203.00" x2="120.20" y2="210.20" stroke="#c0a850" stroke-width="0.75"/>
<line x1="127.40" y1="203.00" x2="120.20" y2="210.20" stroke="#c0a850" stroke-width="0.75"/>
<circle cx="119.00" cy="196.60" r="1.20" fill="url(#gb)"/>
<circle cx="120.20" cy="210.20" r="1.20" fill="url(#gb)"/>
<circle cx="111.80" cy="203.00" r="3.50" fill="url(#gy)"/>
<circle cx="127.40" cy="203.00" r="3.50" fill="url(#gy)"/>
<line x1="142.60" y1="207.20" x2="152.60" y2="203.50" stroke="#c0a850" stroke-width="0.75"/>
<line x1="142.60" y1="207.20" x2="148.70" y2="216.60" stroke="#c0a850" stroke-width="0.75"/>
<line x1="152.60" y1="203.50" x2="159.00" y2="213.40" stroke="#c0a850" stroke-width="0.75"/>
<line x1="148.70" y1="216.60" x2="159.00" y2="213.40" stroke="#c0a850" stroke-width="0.75"/>
<line x1="159.00" y1="213.40" x2="165.30" y2="204.00" stroke="#c0a850" stroke-width="0.75"/>
<line x1="159.00" y1="213.40" x2="167.70" y2="215.80" stroke="#c0a850" stroke-width="0.75"/>
<line x1="165.30" y1="204.00" x2="174.80" y2="208.80" stroke="#c0a850" stroke-width="0.75"/>
<line x1="167.70" y1="215.80" x2="174.80" y2="208.80" stroke="#c0a850" stroke-width="0.75"/>
<circle cx="152.60" cy="203.50" r="1.20" fill="url(#gb)"/>
<circle cx="148.70" cy="216.60" r="1.20" fill="url(#gb)"/>
<circle cx="165.30" cy="204.00" r="1.20" fill="url(#gb)"/>
<circle cx="167.70" cy="215.80" r="1.20" fill="url(#gb)"/>
<circle cx="142.60" cy="207.20" r="3.10" fill="url(#gy)"/>
<circle cx="159.00" cy="213.40" r="3.10" fill="url(#gy)"/>
<circle cx="174.80" cy="208.80" r="3.10" fill="url(#gy)"/>
<line x1="87.30" y1="236.50" x2="85.30" y2="223.80" stroke="#c8b85a" stroke-width="0.6"/>
<line x1="87.30" y1="236.50" x2="79.50" y2="233.50" stroke="#c8b85a" stroke-width="0.6"/>
<line x1="87.30" y1="236.50" x2="77.60" y2="237.40" stroke="#c8b85a" stroke-width="0.6"/>
<line x1="87.30" y1="236.50" x2="97.80" y2="233.60" stroke="#c8b85a" stroke-width="0.6"/>
<line x1="87.30" y1="236.50" x2="93.60" y2="239.00" stroke="#c8b85a" stroke-width="0.6"/>
<line x1="87.30" y1="236.50" x2="87.80" y2="248.50" stroke="#c8b85a" stroke-width="0.6"/>
<circle cx="85.30" cy="223.80" r="2.00" fill="url(#gp)"/>
<circle cx="79.50" cy="233.50" r="2.00" fill="url(#gp)"/>
<circle cx="77.60" cy="237.40" r="2.00" fill="url(#gp)"/>
<circle cx="97.80" cy="233.60" r="2.00" fill="url(#gp)"/>
<circle cx="93.60" cy="239.00" r="2.00" fill="url(#gp)"/>
<circle cx="87.80" cy="248.50" r="2.00" fill="url(#gp)"/>
<circle cx="87.30" cy="236.50" r="2.50" fill="url(#gb)"/>
<line x1="119.40" y1="234.10" x2="111.70" y2="241.20" stroke="#c0a850" stroke-width="0.75"/>
<line x1="119.40" y1="234.10" x2="127.20" y2="241.20" stroke="#c0a850" stroke-width="0.75"/>
<line x1="111.70" y1="241.20" x2="119.40" y2="248.20" stroke="#c0a850" stroke-width="0.75"/>
<line x1="127.20" y1="241.20" x2="119.40" y2="248.20" stroke="#c0a850" stroke-width="0.75"/>
<circle cx="119.40" cy="234.10" r="1.80" fill="url(#gp)"/>
<circle cx="119.40" cy="248.20" r="1.80" fill="url(#gp)"/>
<circle cx="111.70" cy="241.20" r="2.20" fill="url(#gb)"/>
<circle cx="127.20" cy="241.20" r="2.20" fill="url(#gb)"/>
<rect x="38.80" y="164.80" width="145.40" height="117.10" fill="none" stroke="#000" stroke-width="1.9"/>
<line x1="38.80" y1="281.90" x2="38.80" y2="284.10" stroke="#000" stroke-width="1.2"/>
<text transform="translate(38.80 296.50) scale(1.0 1.06)" font-size="13.8" text-anchor="middle" fill="#000" stroke="#000" stroke-width="0.35" stroke-linejoin="round" >0</text>
<line x1="63.03" y1="281.90" x2="63.03" y2="284.10" stroke="#000" stroke-width="1.2"/>
<text transform="translate(63.03 296.50) scale(1.0 1.06)" font-size="13.8" text-anchor="middle" fill="#000" stroke="#000" stroke-width="0.35" stroke-linejoin="round" >1</text>
<line x1="87.27" y1="281.90" x2="87.27" y2="284.10" stroke="#000" stroke-width="1.2"/>
<text transform="translate(87.27 296.50) scale(1.0 1.06)" font-size="13.8" text-anchor="middle" fill="#000" stroke="#000" stroke-width="0.35" stroke-linejoin="round" >2</text>
<line x1="111.50" y1="281.90" x2="111.50" y2="284.10" stroke="#000" stroke-width="1.2"/>
<text transform="translate(111.50 296.50) scale(1.0 1.06)" font-size="13.8" text-anchor="middle" fill="#000" stroke="#000" stroke-width="0.35" stroke-linejoin="round" >3</text>
<line x1="135.73" y1="281.90" x2="135.73" y2="284.10" stroke="#000" stroke-width="1.2"/>
<text transform="translate(135.73 296.50) scale(1.0 1.06)" font-size="13.8" text-anchor="middle" fill="#000" stroke="#000" stroke-width="0.35" stroke-linejoin="round" >4</text>
<line x1="159.97" y1="281.90" x2="159.97" y2="284.10" stroke="#000" stroke-width="1.2"/>
<text transform="translate(159.97 296.50) scale(1.0 1.06)" font-size="13.8" text-anchor="middle" fill="#000" stroke="#000" stroke-width="0.35" stroke-linejoin="round" >5</text>
<line x1="184.20" y1="281.90" x2="184.20" y2="284.10" stroke="#000" stroke-width="1.2"/>
<text transform="translate(184.20 296.50) scale(1.0 1.06)" font-size="13.8" text-anchor="middle" fill="#000" stroke="#000" stroke-width="0.35" stroke-linejoin="round" >6</text>
<text x="46.60" y="309.20" font-size="13.8" text-anchor="start" fill="#000" stroke="#000" stroke-width="0.35" stroke-linejoin="round" >Reduced distance (&#197;<tspan dy="-5.5" font-size="9">-1</tspan><tspan dy="5.5">)</tspan></text>
<text x="33.20" y="258.40" font-size="13.5" text-anchor="start" fill="#000" stroke="#000" stroke-width="0.35" stroke-linejoin="round" transform="rotate(-90 33.2 258.4)">FT of EXAFS</text>
<text x="18.00" y="171.60" font-size="11.8" text-anchor="start" fill="#000" stroke="#000" stroke-width="0.307" stroke-linejoin="round" >(c)</text>
<text x="44.00" y="179.80" font-size="14" text-anchor="start" fill="#000" stroke="#000" stroke-width="0.35" stroke-linejoin="round" >Fe</text>
<text x="134.80" y="238.70" font-size="8.2" text-anchor="start" fill="#000" stroke="#000" stroke-width="0.3" stroke-linejoin="round" >FeAs powder</text>
<text x="125.60" y="274.70" font-size="8.25" text-anchor="start" fill="#4a2cf0" stroke="#4a2cf0" stroke-width="0.3" stroke-linejoin="round" >FeAs after OER</text>
<path d="M220.60,214.20 C221.83,214.23 225.80,214.40 228.00,214.40 C230.20,214.40 232.13,214.38 233.80,214.20 C235.47,214.02 236.68,213.62 238.00,213.30 C239.32,212.98 240.73,212.27 241.70,212.30 C242.67,212.33 243.13,213.15 243.80,213.50 C244.47,213.85 245.00,214.73 245.70,214.40 C246.40,214.07 247.22,212.42 248.00,211.50 C248.78,210.58 249.20,209.55 250.40,208.90 C251.60,208.25 253.85,207.62 255.20,207.60 C256.55,207.58 257.55,208.27 258.50,208.80 C259.45,209.33 260.23,211.27 260.90,210.80 C261.57,210.33 261.95,208.30 262.50,206.00 C263.05,203.70 263.58,200.33 264.20,197.00 C264.82,193.67 265.52,189.25 266.20,186.00 C266.88,182.75 267.62,179.42 268.30,177.50 C268.98,175.58 269.62,174.50 270.30,174.50 C270.98,174.50 271.70,175.25 272.40,177.50 C273.10,179.75 273.83,184.08 274.50,188.00 C275.17,191.92 275.85,197.33 276.40,201.00 C276.95,204.67 277.40,208.08 277.80,210.00 C278.20,211.92 278.35,212.83 278.80,212.50 C279.25,212.17 279.93,209.92 280.50,208.00 C281.07,206.08 281.58,202.63 282.20,201.00 C282.82,199.37 283.43,198.12 284.20,198.20 C284.97,198.28 285.73,199.95 286.80,201.50 C287.87,203.05 289.40,207.50 290.60,207.50 C291.80,207.50 292.68,203.12 294.00,201.50 C295.32,199.88 297.08,198.05 298.50,197.80 C299.92,197.55 301.18,199.13 302.50,200.00 C303.82,200.87 304.70,201.63 306.40,203.00 C308.10,204.37 310.60,206.83 312.70,208.20 C314.80,209.57 316.88,210.90 319.00,211.20 C321.12,211.50 323.43,210.10 325.40,210.00 C327.37,209.90 329.03,210.63 330.80,210.60 C332.57,210.57 334.42,209.93 336.00,209.80 C337.58,209.67 338.93,209.60 340.30,209.80 C341.67,210.00 342.88,210.55 344.20,211.00 C345.52,211.45 346.47,212.17 348.20,212.50 C349.93,212.83 351.80,212.93 354.60,213.00 C357.40,213.07 363.27,212.92 365.00,212.90" fill="none" stroke="#000" stroke-width="1.9" stroke-linejoin="round" stroke-linecap="round" />
<path d="M220.60,214.20 C221.83,214.23 225.80,214.40 228.00,214.40 C230.20,214.40 232.13,214.38 233.80,214.20 C235.47,214.02 236.68,213.62 238.00,213.30 C239.32,212.98 240.73,212.35 241.70,212.30 C242.67,212.25 243.13,212.85 243.80,213.00 C244.47,213.15 245.00,213.53 245.70,213.20 C246.40,212.87 247.22,211.72 248.00,211.00 C248.78,210.28 249.20,209.47 250.40,208.90 C251.60,208.33 253.85,207.58 255.20,207.60 C256.55,207.62 257.55,208.43 258.50,209.00 C259.45,209.57 260.23,211.50 260.90,211.00 C261.57,210.50 261.95,208.33 262.50,206.00 C263.05,203.67 263.58,200.33 264.20,197.00 C264.82,193.67 265.52,189.25 266.20,186.00 C266.88,182.75 267.62,179.42 268.30,177.50 C268.98,175.58 269.62,174.50 270.30,174.50 C270.98,174.50 271.70,175.25 272.40,177.50 C273.10,179.75 273.83,184.08 274.50,188.00 C275.17,191.92 275.85,197.33 276.40,201.00 C276.95,204.67 277.40,208.08 277.80,210.00 C278.20,211.92 278.35,212.83 278.80,212.50 C279.25,212.17 279.93,209.92 280.50,208.00 C281.07,206.08 281.58,202.63 282.20,201.00 C282.82,199.37 283.43,198.12 284.20,198.20 C284.97,198.28 285.73,199.90 286.80,201.50 C287.87,203.10 289.40,207.72 290.60,207.80 C291.80,207.88 292.68,203.53 294.00,202.00 C295.32,200.47 297.08,198.80 298.50,198.60 C299.92,198.40 301.18,199.90 302.50,200.80 C303.82,201.70 304.70,202.63 306.40,204.00 C308.10,205.37 310.60,207.67 312.70,209.00 C314.80,210.33 316.88,211.73 319.00,212.00 C321.12,212.27 323.43,210.72 325.40,210.60 C327.37,210.48 329.03,211.32 330.80,211.30 C332.57,211.28 334.42,210.62 336.00,210.50 C337.58,210.38 338.93,210.35 340.30,210.60 C341.67,210.85 342.88,211.57 344.20,212.00 C345.52,212.43 346.47,212.93 348.20,213.20 C349.93,213.47 351.80,213.53 354.60,213.60 C357.40,213.67 363.27,213.60 365.00,213.60" fill="none" stroke="#f35516" stroke-width="1.9" stroke-linejoin="round" stroke-linecap="round" />
<path d="M220.60,263.50 C221.17,263.48 222.75,263.60 224.00,263.40 C225.25,263.20 226.88,262.27 228.10,262.30 C229.32,262.33 230.40,263.65 231.30,263.60 C232.20,263.55 232.82,262.40 233.50,262.00 C234.18,261.60 234.83,261.50 235.40,261.20 C235.97,260.90 236.32,260.85 236.90,260.20 C237.48,259.55 238.20,258.37 238.90,257.30 C239.60,256.23 240.30,254.77 241.10,253.80 C241.90,252.83 242.92,252.25 243.70,251.50 C244.48,250.75 245.15,250.22 245.80,249.30 C246.45,248.38 247.13,247.55 247.60,246.00 C248.07,244.45 248.20,242.17 248.60,240.00 C249.00,237.83 249.55,234.75 250.00,233.00 C250.45,231.25 250.83,230.28 251.30,229.50 C251.77,228.72 252.30,228.22 252.80,228.30 C253.30,228.38 253.85,228.88 254.30,230.00 C254.75,231.12 255.08,232.83 255.50,235.00 C255.92,237.17 256.38,240.17 256.80,243.00 C257.22,245.83 257.57,249.25 258.00,252.00 C258.43,254.75 258.93,258.67 259.40,259.50 C259.87,260.33 260.27,258.22 260.80,257.00 C261.33,255.78 261.90,252.73 262.60,252.20 C263.30,251.67 264.18,253.03 265.00,253.80 C265.82,254.57 266.37,255.85 267.50,256.80 C268.63,257.75 270.30,258.88 271.80,259.50 C273.30,260.12 275.30,260.72 276.50,260.50 C277.70,260.28 278.08,258.37 279.00,258.20 C279.92,258.03 280.92,259.03 282.00,259.50 C283.08,259.97 284.50,261.17 285.50,261.00 C286.50,260.83 287.13,259.10 288.00,258.50 C288.87,257.90 289.53,257.32 290.70,257.40 C291.87,257.48 293.45,258.48 295.00,259.00 C296.55,259.52 298.12,260.17 300.00,260.50 C301.88,260.83 304.30,260.83 306.30,261.00 C308.30,261.17 309.72,261.42 312.00,261.50 C314.28,261.58 317.00,261.55 320.00,261.50 C323.00,261.45 326.67,261.12 330.00,261.20 C333.33,261.28 336.67,262.03 340.00,262.00 C343.33,261.97 347.00,260.87 350.00,261.00 C353.00,261.13 355.50,262.43 358.00,262.80 C360.50,263.17 363.83,263.13 365.00,263.20" fill="none" stroke="#3c1cf4" stroke-width="1.9" stroke-linejoin="round" stroke-linecap="round" />
<path d="M220.60,263.50 C221.17,263.48 222.75,263.60 224.00,263.40 C225.25,263.20 226.88,262.27 228.10,262.30 C229.32,262.33 230.40,263.65 231.30,263.60 C232.20,263.55 232.82,262.40 233.50,262.00 C234.18,261.60 234.73,261.30 235.40,261.20 C236.07,261.10 236.82,261.85 237.50,261.40 C238.18,260.95 238.80,259.57 239.50,258.50 C240.20,257.43 240.90,255.97 241.70,255.00 C242.50,254.03 243.52,253.45 244.30,252.70 C245.08,251.95 245.85,251.62 246.40,250.50 C246.95,249.38 247.23,247.75 247.60,246.00 C247.97,244.25 248.20,242.17 248.60,240.00 C249.00,237.83 249.55,234.75 250.00,233.00 C250.45,231.25 250.83,230.28 251.30,229.50 C251.77,228.72 252.30,228.22 252.80,228.30 C253.30,228.38 253.85,228.88 254.30,230.00 C254.75,231.12 255.08,232.83 255.50,235.00 C255.92,237.17 256.38,240.17 256.80,243.00 C257.22,245.83 257.57,249.25 258.00,252.00 C258.43,254.75 258.93,258.67 259.40,259.50 C259.87,260.33 260.27,258.22 260.80,257.00 C261.33,255.78 261.90,252.73 262.60,252.20 C263.30,251.67 264.18,253.03 265.00,253.80 C265.82,254.57 266.37,255.77 267.50,256.80 C268.63,257.83 270.30,259.10 271.80,260.00 C273.30,260.90 275.13,261.78 276.50,262.20 C277.87,262.62 278.50,262.60 280.00,262.50 C281.50,262.40 283.72,262.02 285.50,261.60 C287.28,261.18 289.12,260.02 290.70,260.00 C292.28,259.98 293.45,261.03 295.00,261.50 C296.55,261.97 298.12,262.78 300.00,262.80 C301.88,262.82 304.30,261.57 306.30,261.60 C308.30,261.63 309.72,262.87 312.00,263.00 C314.28,263.13 317.00,262.47 320.00,262.40 C323.00,262.33 326.67,262.63 330.00,262.60 C333.33,262.57 336.67,262.13 340.00,262.20 C343.33,262.27 347.00,262.83 350.00,263.00 C353.00,263.17 355.50,263.13 358.00,263.20 C360.50,263.27 363.83,263.37 365.00,263.40" fill="none" stroke="#f35516" stroke-width="1.9" stroke-linejoin="round" stroke-linecap="round" />
<line x1="248.20" y1="193.20" x2="237.10" y2="192.70" stroke="#c8b85a" stroke-width="0.6"/>
<line x1="248.20" y1="193.20" x2="243.40" y2="189.50" stroke="#c8b85a" stroke-width="0.6"/>
<line x1="248.20" y1="193.20" x2="255.30" y2="184.00" stroke="#c8b85a" stroke-width="0.6"/>
<line x1="248.20" y1="193.20" x2="258.50" y2="197.40" stroke="#c8b85a" stroke-width="0.6"/>
<line x1="248.20" y1="193.20" x2="251.80" y2="200.60" stroke="#c8b85a" stroke-width="0.6"/>
<line x1="248.20" y1="193.20" x2="245.80" y2="203.00" stroke="#c8b85a" stroke-width="0.6"/>
<circle cx="237.10" cy="192.70" r="1.60" fill="url(#gb)"/>
<circle cx="243.40" cy="189.50" r="1.60" fill="url(#gb)"/>
<circle cx="255.30" cy="184.00" r="1.60" fill="url(#gb)"/>
<circle cx="248.20" cy="193.20" r="3.40" fill="url(#gy)"/>
<circle cx="258.50" cy="197.40" r="1.60" fill="url(#gb)"/>
<circle cx="251.80" cy="200.60" r="1.60" fill="url(#gb)"/>
<circle cx="245.80" cy="203.00" r="1.60" fill="url(#gb)"/>
<line x1="289.00" y1="176.10" x2="281.10" y2="184.80" stroke="#c0a850" stroke-width="0.75"/>
<line x1="289.00" y1="176.10" x2="297.70" y2="184.80" stroke="#c0a850" stroke-width="0.75"/>
<line x1="281.10" y1="184.80" x2="289.80" y2="193.20" stroke="#c0a850" stroke-width="0.75"/>
<line x1="297.70" y1="184.80" x2="289.80" y2="193.20" stroke="#c0a850" stroke-width="0.75"/>
<circle cx="281.10" cy="184.80" r="1.50" fill="url(#gb)"/>
<circle cx="297.70" cy="184.80" r="1.50" fill="url(#gb)"/>
<circle cx="289.00" cy="176.10" r="3.40" fill="url(#gy)"/>
<circle cx="289.80" cy="193.20" r="3.40" fill="url(#gy)"/>
<line x1="310.30" y1="191.10" x2="320.50" y2="184.30" stroke="#c0a850" stroke-width="0.75"/>
<line x1="310.30" y1="191.10" x2="319.40" y2="199.00" stroke="#c0a850" stroke-width="0.75"/>
<line x1="320.50" y1="184.30" x2="330.00" y2="192.20" stroke="#c0a850" stroke-width="0.75"/>
<line x1="319.40" y1="199.00" x2="330.00" y2="192.20" stroke="#c0a850" stroke-width="0.75"/>
<line x1="330.00" y1="192.20" x2="338.00" y2="183.70" stroke="#c0a850" stroke-width="0.75"/>
<line x1="330.00" y1="192.20" x2="335.90" y2="202.70" stroke="#c0a850" stroke-width="0.75"/>
<line x1="338.00" y1="183.70" x2="344.00" y2="194.30" stroke="#c0a850" stroke-width="0.75"/>
<line x1="335.90" y1="202.70" x2="344.00" y2="194.30" stroke="#c0a850" stroke-width="0.75"/>
<circle cx="310.30" cy="191.10" r="1.50" fill="url(#gb)"/>
<circle cx="330.00" cy="192.20" r="1.50" fill="url(#gb)"/>
<circle cx="344.00" cy="194.30" r="1.50" fill="url(#gb)"/>
<circle cx="320.50" cy="184.30" r="3.40" fill="url(#gy)"/>
<circle cx="319.40" cy="199.00" r="3.40" fill="url(#gy)"/>
<circle cx="338.00" cy="183.70" r="3.40" fill="url(#gy)"/>
<circle cx="335.90" cy="202.70" r="3.40" fill="url(#gy)"/>
<rect x="220.40" y="165.60" width="144.80" height="117.20" fill="none" stroke="#000" stroke-width="1.9"/>
<line x1="220.40" y1="282.80" x2="220.40" y2="285.00" stroke="#000" stroke-width="1.2"/>
<text transform="translate(220.40 297.40) scale(1.0 1.06)" font-size="13.8" text-anchor="middle" fill="#000" stroke="#000" stroke-width="0.35" stroke-linejoin="round" >0</text>
<line x1="244.53" y1="282.80" x2="244.53" y2="285.00" stroke="#000" stroke-width="1.2"/>
<text transform="translate(244.53 297.40) scale(1.0 1.06)" font-size="13.8" text-anchor="middle" fill="#000" stroke="#000" stroke-width="0.35" stroke-linejoin="round" >1</text>
<line x1="268.67" y1="282.80" x2="268.67" y2="285.00" stroke="#000" stroke-width="1.2"/>
<text transform="translate(268.67 297.40) scale(1.0 1.06)" font-size="13.8" text-anchor="middle" fill="#000" stroke="#000" stroke-width="0.35" stroke-linejoin="round" >2</text>
<line x1="292.80" y1="282.80" x2="292.80" y2="285.00" stroke="#000" stroke-width="1.2"/>
<text transform="translate(292.80 297.40) scale(1.0 1.06)" font-size="13.8" text-anchor="middle" fill="#000" stroke="#000" stroke-width="0.35" stroke-linejoin="round" >3</text>
<line x1="316.93" y1="282.80" x2="316.93" y2="285.00" stroke="#000" stroke-width="1.2"/>
<text transform="translate(316.93 297.40) scale(1.0 1.06)" font-size="13.8" text-anchor="middle" fill="#000" stroke="#000" stroke-width="0.35" stroke-linejoin="round" >4</text>
<line x1="341.07" y1="282.80" x2="341.07" y2="285.00" stroke="#000" stroke-width="1.2"/>
<text transform="translate(341.07 297.40) scale(1.0 1.06)" font-size="13.8" text-anchor="middle" fill="#000" stroke="#000" stroke-width="0.35" stroke-linejoin="round" >5</text>
<line x1="365.20" y1="282.80" x2="365.20" y2="285.00" stroke="#000" stroke-width="1.2"/>
<text transform="translate(365.20 297.40) scale(1.0 1.06)" font-size="13.8" text-anchor="middle" fill="#000" stroke="#000" stroke-width="0.35" stroke-linejoin="round" >6</text>
<text x="227.40" y="310.60" font-size="13.8" text-anchor="start" fill="#000" stroke="#000" stroke-width="0.35" stroke-linejoin="round" >Reduced distance (&#197;<tspan dy="-5.5" font-size="9">-1</tspan><tspan dy="5.5">)</tspan></text>
<text x="213.60" y="258.60" font-size="13.5" text-anchor="start" fill="#000" stroke="#000" stroke-width="0.35" stroke-linejoin="round" transform="rotate(-90 213.6 258.6)">FT of EXAFS</text>
<text x="200.20" y="172.20" font-size="11.8" text-anchor="start" fill="#000" stroke="#000" stroke-width="0.307" stroke-linejoin="round" >(d)</text>
<text x="224.30" y="180.60" font-size="14" text-anchor="start" fill="#000" stroke="#000" stroke-width="0.35" stroke-linejoin="round" >As</text>
<text x="317.80" y="225.70" font-size="8.2" text-anchor="start" fill="#000" stroke="#000" stroke-width="0.3" stroke-linejoin="round" >FeAs powder</text>
<text x="304.60" y="274.80" font-size="8.35" text-anchor="start" fill="#4a2cf0" stroke="#4a2cf0" stroke-width="0.3" stroke-linejoin="round" >FeAs after OER</text>
</svg></body></html>
